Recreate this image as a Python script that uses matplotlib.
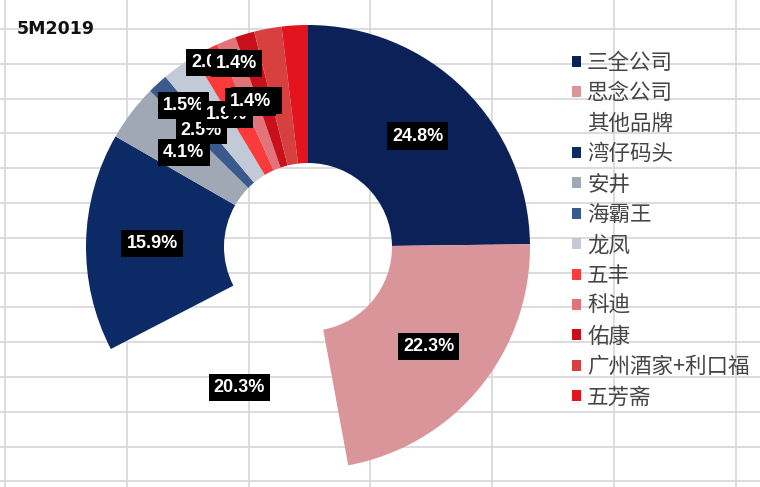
import matplotlib
matplotlib.use("Agg")
import numpy as np
from matplotlib import pyplot as plt

plt.rcParams["font.family"] = ["Noto Sans CJK SC", "DejaVu Sans"]

title = "5M2019"
brands = ["三全公司", "思念公司", "其他品牌", "湾仔码头", "安井", "海霸王", "龙凤",
          "五丰", "科迪", "佑康", "广州酒家+利口福", "五芳斋"]
shares = [24.8, 22.3, 20.3, 15.9, 4.1, 1.5, 2.5, 1.9, 1.4, 1.4, 2.0, 1.9]
colors = ["#0b2157", "#d9959a", "none", "#0b2a66", "#a0a8b5", "#3a5a8c", "#c3cad7",
          "#fb3b3b", "#e07479", "#c8101a", "#d6403f", "#e3141d"]

W, H = 760, 487
cx, cy = 308, 247          # donut centre, px from top-left
r_out, r_in = 222, 84
r_lab = 156

# hand-dragged labels in the crowded top-left corner (px, +y is down)
nudge = {5: (-19, -27), 6: (-16, 11), 7: (-9, 6), 9: (-27, -34), 10: (-68, -31), 11: (-42, 9)}
behind = {10, 11}

fig = plt.figure(figsize=(W / 100, H / 100), dpi=100)
fig.set_facecolor("w")
ax = fig.add_axes([0, 0, 1, 1])

wedges, _ = ax.pie(shares, colors=colors, startangle=90, counterclock=False,
                   radius=r_out, center=(cx, H - cy),
                   wedgeprops=dict(width=r_out - r_in, linewidth=0))
ax.set_xlim(0, W)
ax.set_ylim(0, H)
ax.set_aspect("equal")
ax.axis("off")

# spreadsheet cells behind the chart
for gx in np.arange(5, W, 121.8):
    ax.axvline(gx, color="#d9d9d9", lw=1.3, zorder=0)
for gy in np.arange(29, H, 34.8):
    ax.axhline(H - gy, color="#d9d9d9", lw=1.3, zorder=0)

for i, (w, v) in enumerate(zip(wedges, shares)):
    ang = np.deg2rad((w.theta1 + w.theta2) / 2)
    dx, dy = nudge.get(i, (0, 0))
    x = cx + r_lab * np.cos(ang) + dx
    y = H - cy + r_lab * np.sin(ang) - dy
    ax.text(x, y, f"{v:.1f}%", ha="center", va="center", color="w",
            fontsize=13, fontweight="bold", family=["Liberation Sans", "DejaVu Sans"],
            bbox=dict(boxstyle="square,pad=0.28", fc="black", ec="none"),
            zorder=3 if i in behind else 4 + i)

ax.text(17, H - 28.5, title, ha="left", va="center", fontsize=12.5,
        fontweight="bold", color="#111111", family="DejaVu Sans")

fig.legend(wedges, brands, loc="upper left", bbox_to_anchor=(572 / W, 1 - 52 / H),
           frameon=False, fontsize=15.5, handlelength=0.4, handleheight=0.4,
           handletextpad=0.3, labelspacing=0.39, borderpad=0, borderaxespad=0,
           labelcolor="#454545")

fig.savefig("out.png", dpi=100)
plt.close(fig)
